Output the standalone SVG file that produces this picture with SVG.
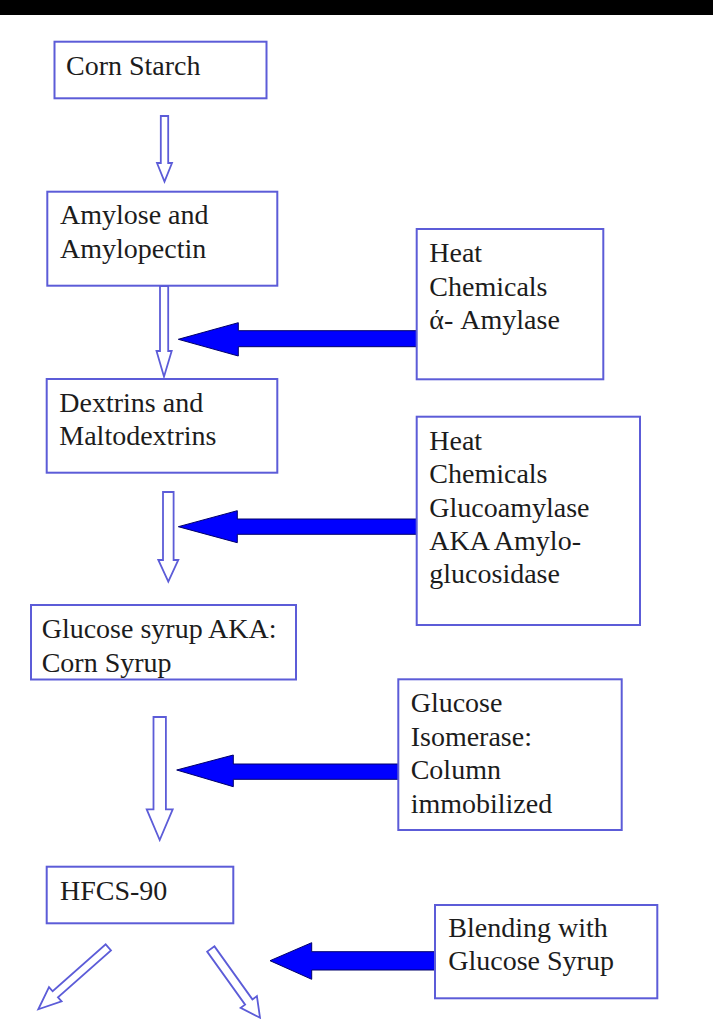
<svg xmlns="http://www.w3.org/2000/svg" width="713" height="1024" viewBox="0 0 713 1024">
<style>
.box{fill:#fff;stroke:#5c5cd8;stroke-width:2}
.t{font-family:"Liberation Serif","Times New Roman",serif;font-size:28px;fill:#1c1c1c}
.hol{fill:#fff;stroke:#5c5cd8;stroke-width:1.8;stroke-linejoin:miter}
.blu{fill:#0000ff;stroke:#00006a;stroke-width:1;stroke-linejoin:miter}
</style>
<rect x="0" y="0" width="713" height="1024" fill="#fff"/>
<rect x="0" y="0" width="713" height="15" fill="#000"/>

<g id="connectors">
  <!-- hollow vertical arrows -->
  <polygon class="hol" points="160.8,116 168.2,116 168.2,163 172,163 164.5,181.5 157,163 160.8,163"/>
  <polygon class="hol" points="160,286 168.2,286 168.2,351 171.7,351 164,376.7 156.5,351 160,351"/>
  <polygon class="hol" points="163,492 173.6,492 173.6,560 178.3,560 168.3,581.7 158.3,560 163,560"/>
  <polygon class="hol" points="153.5,717 165.9,717 165.9,809.3 172.7,809.3 159.7,840 146.7,809.3 153.5,809.3"/>
  <!-- hollow diagonal arrows -->
  <g transform="translate(38.3,1009.3) rotate(48.5)">
    <polygon class="hol" points="-4,-93.5 4,-93.5 4,-22.7 9.5,-22.7 0,0 -9.5,-22.7 -4,-22.7"/>
  </g>
  <g transform="translate(260,1017.7) rotate(-35.6)">
    <polygon class="hol" points="-4.5,-84.5 4.5,-84.5 4.5,-19.3 10,-19.3 0,0 -10,-19.3 -4.5,-19.3"/>
  </g>
  <!-- blue arrows -->
  <polygon class="blu" points="418,330.7 238.3,330.7 238.3,322.7 178.3,339.3 238.3,356 238.3,346.7 418,346.7"/>
  <polygon class="blu" points="418,519 237.3,519 237.3,510.7 178.3,526.7 237.3,542.7 237.3,534.3 418,534.3"/>
  <polygon class="blu" points="398.3,764 233.3,764 233.3,755 176.7,770 233.3,786.7 233.3,779.3 398.3,779.3"/>
  <polygon class="blu" points="435,951.7 311.7,951.7 311.7,942.7 270,960.7 311.7,979.3 311.7,970 435,970"/>
</g>

<g id="corn-starch">
  <rect class="box" x="54.5" y="41.7" width="212" height="56.6"/>
  <text class="t" x="66" y="75">Corn Starch</text>
</g>
<g id="amylose">
  <rect class="box" x="47.3" y="191.7" width="230" height="94"/>
  <text class="t" x="60" y="224">Amylose and</text>
  <text class="t" x="60" y="258">Amylopectin</text>
</g>
<g id="heat1">
  <rect class="box" x="416.7" y="229" width="186.6" height="150.3"/>
  <text class="t" x="429.3" y="262">Heat</text>
  <text class="t" x="429.3" y="296">Chemicals</text>
  <text class="t" x="429.3" y="329">ά- Amylase</text>
</g>
<g id="dextrins">
  <rect class="box" x="46.7" y="379" width="230.6" height="93.7"/>
  <text class="t" x="59.3" y="411.7">Dextrins and</text>
  <text class="t" x="59.3" y="445">Maltodextrins</text>
</g>
<g id="heat2">
  <rect class="box" x="416.7" y="416.7" width="223.3" height="208.3"/>
  <text class="t" x="429.3" y="450">Heat</text>
  <text class="t" x="429.3" y="483.3">Chemicals</text>
  <text class="t" x="429.3" y="516.7">Glucoamylase</text>
  <text class="t" x="429.3" y="550">AKA Amylo-</text>
  <text class="t" x="429.3" y="583.3">glucosidase</text>
</g>
<g id="glucose-syrup">
  <rect class="box" x="31" y="605" width="265" height="74.5"/>
  <text class="t" x="41.7" y="638.3">Glucose syrup AKA:</text>
  <text class="t" x="41.7" y="671.7">Corn Syrup</text>
</g>
<g id="isomerase">
  <rect class="box" x="398.3" y="679.3" width="223.4" height="150.7"/>
  <text class="t" x="410.7" y="712.3">Glucose</text>
  <text class="t" x="410.7" y="745.7">Isomerase:</text>
  <text class="t" x="410.7" y="779">Column</text>
  <text class="t" x="410.7" y="813.3">immobilized</text>
</g>
<g id="hfcs90">
  <rect class="box" x="46.7" y="866.7" width="186.6" height="56.6"/>
  <text class="t" x="60" y="900">HFCS-90</text>
</g>
<g id="blending">
  <rect class="box" x="435" y="905" width="222.3" height="93.3"/>
  <text class="t" x="448.3" y="936.7">Blending with</text>
  <text class="t" x="448.3" y="970">Glucose Syrup</text>
</g>
</svg>
